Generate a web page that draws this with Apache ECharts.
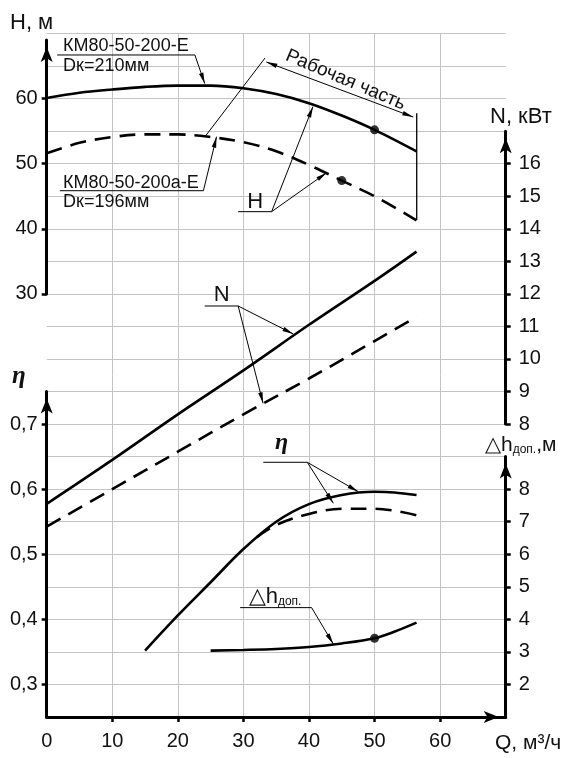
<!DOCTYPE html>
<html><head><meta charset="utf-8">
<script src="https://cdn.jsdelivr.net/npm/echarts@6/dist/echarts.min.js"></script>
<style>html,body{margin:0;padding:0;background:#fff}#c{width:569px;height:758px}</style>
</head><body><div id="c"></div>
<script>
// ---- data ----
const qH1 = [0, 5, 10, 15, 20, 25, 30, 35, 40, 45, 50, 56.4];
const headH1 = [60.1, 60.9, 61.4, 61.8, 62.0, 62.0, 61.6, 60.7, 59.3, 57.4, 55.2, 51.9];
const qH2 = [0, 5, 10, 15, 20, 25, 30, 35, 40, 45, 50, 56.4];
const headH2 = [51.6, 53.2, 54.1, 54.5, 54.5, 54.1, 53.3, 51.9, 49.8, 47.4, 45.0, 41.3];
const dotH1 = [50, 55.2];
const dotH2 = [45, 47.4];
const qN = [0, 10, 20, 30, 40, 50, 56.4];
const powerN1 = [5.55, 6.9, 8.3, 9.65, 11.05, 12.4, 13.3];
const powerN2 = [4.85, 6.0, 7.15, 8.3, 9.4, 10.55, 11.3];
const qE1 = [15, 20, 25, 30, 35, 40, 45, 50, 53, 56.4];
const eff1 = [0.352, 0.406, 0.457, 0.508, 0.550, 0.577, 0.591, 0.596, 0.595, 0.591];
const qE2 = [32, 35, 40, 45, 50, 56.4];
const eff2 = [0.526, 0.545, 0.562, 0.570, 0.570, 0.560];
const qD = [25, 30, 35, 40, 45, 50, 53, 56.4];
const npshD = [3.04, 3.06, 3.09, 3.15, 3.26, 3.42, 3.62, 3.90];
const dotD = [50, 3.42];
const xLabels = [0, 10, 20, 30, 40, 50, 60];
const hLabels = [30, 40, 50, 60];
const etaLabels = [0.3, 0.4, 0.5, 0.6, 0.7];
const nLabels = [8, 9, 10, 11, 12, 13, 14, 15, 16];
const dLabels = [2, 3, 4, 5, 6, 7, 8];

// ---- layout ----
const L = 46.7, R = 505.7, T = 33.5, B = 717;
const GW = R - L;
const RANGE = {H: [-35, 70], E: [0.25, 1.30], N: [-1, 20], D: [1, 22]};
function yPix(v, k) { const r = RANGE[k]; return B - (v - r[0]) / (r[1] - r[0]) * (B - T); }

const FONT = '"Liberation Sans", Arial, sans-serif';
const gridLine = {show: true, lineStyle: {color: '#c4c4c4', width: 1}};
const axisLineBold = {show: true, onZero: false, symbol: ['none', 'arrow'], symbolSize: [9, 15], symbolOffset: [0, -7],
  lineStyle: {color: '#000', width: 3}};
const tick = (vals) => ({show: true, customValues: vals, length: 5, lineStyle: {color: '#000', width: 2.5}});
const lbl = (vals, margin, fmt) => ({show: true, customValues: vals, margin: margin, color: '#111', fontSize: 20, fontFamily: FONT,
  formatter: fmt || (v => String(v))});
const commaFmt = v => v.toFixed(1).replace('.', ',');

const grids = [
  {left: L, top: T, width: GW, height: B - T},
  {left: L, top: yPix(69, 'H'), width: GW, height: yPix(30, 'H') - yPix(69, 'H')},
  {left: L, top: yPix(0.75, 'E'), width: GW, height: B - yPix(0.75, 'E')},
  {left: L, top: yPix(17, 'N'), width: GW, height: yPix(8, 'N') - yPix(17, 'N')},
  {left: L, top: yPix(9, 'D'), width: GW, height: B - yPix(9, 'D')}
].map(g => Object.assign(g, {containLabel: false, outerBoundsMode: 'none'}));

const xAxes = [{
  type: 'value', gridIndex: 0, min: 0, max: 70, interval: 5,
  axisLine: axisLineBold, axisTick: tick([10, 20, 30, 40, 50, 60]),
  axisLabel: lbl(xLabels, 14), splitLine: gridLine, minorSplitLine: {show: false}
}];
for (let i = 1; i <= 4; i++) xAxes.push({type: 'value', gridIndex: i, min: 0, max: 70, show: false});

const hidden = (k) => ({type: 'value', gridIndex: 0, min: RANGE[k][0], max: RANGE[k][1], show: false});
const yAxes = [
  {type: 'value', gridIndex: 0, min: -35, max: 70, interval: 5, axisLine: {show: false}, axisTick: {show: false},
    axisLabel: {show: false}, splitLine: gridLine},
  hidden('E'), hidden('N'), hidden('D'),
  {type: 'value', gridIndex: 1, position: 'left', min: 30, max: 69, axisLine: axisLineBold, axisTick: tick(hLabels),
    axisLabel: lbl(hLabels, 9), splitLine: {show: false}},
  {type: 'value', gridIndex: 2, position: 'left', min: 0.25, max: 0.75, axisLine: axisLineBold, axisTick: tick(etaLabels),
    axisLabel: lbl(etaLabels, 9, commaFmt), splitLine: {show: false}},
  {type: 'value', gridIndex: 3, position: 'right', min: 8, max: 17, axisLine: axisLineBold, axisTick: tick(nLabels),
    axisLabel: lbl(nLabels, 13), splitLine: {show: false}},
  {type: 'value', gridIndex: 4, position: 'right', min: 1, max: 9, axisLine: axisLineBold, axisTick: tick(dLabels),
    axisLabel: lbl(dLabels, 13), splitLine: {show: false}}
];

const pairs = (xs, ys) => xs.map((x, i) => [x, ys[i]]);
const curve = (data, yi, dashed) => ({
  type: 'line', xAxisIndex: 0, yAxisIndex: yi, data: data, smooth: 0.35, showSymbol: false, symbol: 'none',
  lineStyle: {color: '#000', width: 2.6, type: dashed ? [16, 9] : 'solid'}, silent: true, z: 5
});
const dot = (p, yi) => ({type: 'scatter', xAxisIndex: 0, yAxisIndex: yi, data: [p], symbolSize: 9,
  itemStyle: {color: '#000'}, silent: true, z: 6});

const chart = echarts.init(document.getElementById('c'), null, {renderer: 'canvas'});
chart.setOption({
  animation: false,
  backgroundColor: '#fff',
  grid: grids, xAxis: xAxes, yAxis: yAxes,
  series: [
    curve(pairs(qH1, headH1), 0, false),
    curve(pairs(qH2, headH2), 0, true),
    dot(dotH1, 0), dot(dotH2, 0),
    curve(pairs(qN, powerN1), 2, false),
    curve(pairs(qN, powerN2), 2, true),
    curve(pairs(qE1, eff1), 1, false),
    curve(pairs(qE2, eff2), 1, true),
    curve(pairs(qD, npshD), 3, false),
    dot(dotD, 3)
  ]
});

// ---- annotations, positioned in (Q, H) data coordinates ----
const P = p => chart.convertToPixel({xAxisIndex: 0, yAxisIndex: 0}, p);
const g = [];
function txt(p, s, font, align, rot) {
  const q = P(p);
  g.push({type: 'text', x: q[0], y: q[1], rotation: rot || 0, z: 20,
    style: {text: s, font: font, fill: '#111', align: align || 'left', verticalAlign: 'middle',
      textAlign: align || 'left', textVerticalAlign: 'middle'}});
}
function head(a, b) {
  const dx = b[0] - a[0], dy = b[1] - a[1], d = Math.hypot(dx, dy), ux = dx / d, uy = dy / d;
  const len = 11, w = 4.5, bx = b[0] - ux * len, by = b[1] - uy * len;
  g.push({type: 'polygon', z: 21, shape: {points: [[b[0], b[1]], [bx - uy * w / 2, by + ux * w / 2], [bx + uy * w / 2, by - ux * w / 2]]},
    style: {fill: '#000'}});
}
function ln(p0, p1, arrowEnd, arrowStart, width) {
  const a = P(p0), b = P(p1);
  g.push({type: 'line', z: 20, shape: {x1: a[0], y1: a[1], x2: b[0], y2: b[1]}, style: {stroke: '#000', lineWidth: width || 1}});
  if (arrowEnd) head(a, b);
  if (arrowStart) head(b, a);
}
const f18 = '18px ' + FONT;
txt([2.5, 68.0], 'КМ80-50-200-Е', f18);
txt([2.5, 65.0], 'Dк=210мм', f18);
ln([1.6, 66.7], [22.6, 66.7]);
ln([22.6, 66.7], [24.1, 62.3], true);
txt([2.5, 47.0], 'КМ80-50-200а-Е', f18);
txt([2.5, 44.16], 'Dк=196мм', f18);
ln([2.0, 45.85], [23.9, 45.85]);
ln([23.9, 45.85], [25.9, 54.15], true);
ln([33.3, 66.24], [24.1, 54.1]);
ln([33.5, 65.62], [55.9, 57.17], true, true);
ln([56.43, 57.74], [56.43, 41.35], false, false, 1.3);
txt([45.6, 62.86], 'Рабочая часть', '19px ' + FONT, 'center', -0.40);
txt([31.8, 44.2], 'H', '22px ' + FONT, 'center');
ln([29.2, 42.63], [34.3, 42.63]);
ln([34.3, 42.63], [40.6, 58.76], true);
ln([34.3, 42.63], [42.7, 48.62], true);
txt([26.7, 29.8], 'N', '22px ' + FONT, 'center');
ln([24.1, 28.14], [29.2, 28.14]);
ln([29.2, 28.14], [37.6, 23.84], true);
ln([29.2, 28.14], [33.0, 13.19], true);
txt([35.84, 7.14], 'η', 'italic bold 24px "Liberation Serif", serif', 'center');
ln([33.03, 4.13], [39.74, 4.13]);
ln([39.74, 4.13], [47.52, -0.38], true);
ln([39.74, 4.13], [43.71, -2.17], true);
(function () {
  const q = P([34.82, -16.56]);
  g.push({type: 'text', x: q[0], y: q[1], z: 20, style: {
    text: '{a|△h}{b|доп.}', align: 'center', verticalAlign: 'middle', textAlign: 'center', textVerticalAlign: 'middle',
    rich: {a: {fontSize: 22, fontFamily: FONT, fill: '#111', color: '#111'},
      b: {fontSize: 12, fontFamily: FONT, fill: '#111', color: '#111', verticalAlign: 'bottom', padding: [8, 0, 0, 0]}}}});
})();
ln([29.5, -18.2], [40.4, -18.2]);
ln([40.4, -18.2], [43.7, -23.78], true);

// axis names
function name(x, y, s, font, rich) {
  g.push({type: 'text', x: x, y: y, z: 20, style: Object.assign({text: s, font: font, fill: '#111', align: 'left',
    verticalAlign: 'middle', textAlign: 'left', textVerticalAlign: 'middle'}, rich ? {rich: rich} : {})});
}
name(10, 23, 'H, м', '22px ' + FONT);
name(490, 117, 'N, кВт', '22px ' + FONT);
name(12, 377, 'η', 'italic bold 25px "Liberation Serif", serif');
name(485, 445, '{a|△h}{b|доп.}{a|,м}', '20px ' + FONT, {
  a: {fontSize: 21, fontFamily: FONT, fill: '#111', color: '#111'},
  b: {fontSize: 12, fontFamily: FONT, fill: '#111', color: '#111', verticalAlign: 'bottom', padding: [8, 0, 0, 0]}});
name(495, 743, 'Q, м³/ч', '21px ' + FONT);

chart.setOption({graphic: g});
</script></body></html>
